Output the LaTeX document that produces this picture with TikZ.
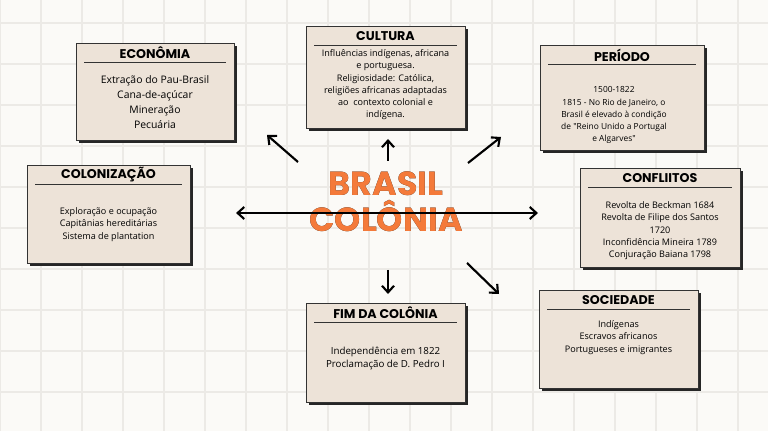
\documentclass[tikz,border=0pt]{standalone}
\usepackage{fontspec}
\setmainfont{Poppins}
\newfontfamily\bodyf{Open Sans}
\usepackage[outline]{contour}
\contourlength{0.9pt}
\usetikzlibrary{arrows.meta}
\definecolor{bg}{HTML}{FBFAF7}
\definecolor{gridc}{HTML}{ECEAE6}
\definecolor{boxf}{HTML}{EDE3D8}
\definecolor{org}{HTML}{F47A3A}
\begin{document}
\begin{tikzpicture}[x=0.75pt,y=-0.75pt,
  card/.style={draw=black!80,line width=0.5pt,fill=boxf},
  ttl/.style={font=\bfseries\fontsize{9.5}{10}\selectfont,anchor=center},
  bod/.style={font=\bodyf\fontsize{6.8}{9.2}\selectfont,align=center,anchor=north},
  arr/.style={line width=1.6pt,-{Straight Barb[length=5pt,width=9pt]}}]
\fill[bg] (0,0) rectangle (768,431);
\useasboundingbox (0,0) rectangle (768,431);
\foreach \x in {0,41,...,768} \draw[gridc,line width=0.8pt] (\x,0)--(\x,431);
\foreach \y in {23,64,...,431} \draw[gridc,line width=0.8pt] (0,\y)--(768,\y);
% cards: #1 x0 #2 y0 #3 x1 #4 y1 #5 title #6 name
\newcommand\card[6]{%
  \fill[black!85] (#1+3,#2+3) rectangle (#3+3,#4+3);
  \draw[card] (#1,#2) rectangle (#3,#4);
  \node[ttl] (#6) at ({(#1+#3)/2},#2+10) {#5};
  \draw[black!80,line width=0.6pt] (#1+8,#2+19)--(#3-8,#2+19);}
\card{76}{43}{234}{140}{ECONÔMIA}{eco}
\node[bod,font=\bodyf\fontsize{7.8}{11.3}\selectfont] at (155,71) {Extração do Pau-Brasil\\Cana-de-açúcar\\Mineração\\Pecuária};
\card{306}{26}{465}{128}{CULTURA}{cul}
\node[bod] at (385.5,45) {Influências indígenas, africana\\e portuguesa.\\Religiosidade: Católica,\\religiões africanas adaptadas\\ao\ \ contexto colonial e\\indígena.};
\card{540}{45}{704}{150}{PERÍODO}{per}
\node[bod,font=\bodyf\fontsize{6.3}{9.2}\selectfont] at (614,82) {1500-1822\\1815 - No Rio de Janeiro, o\\Brasil é elevado à condição\\de "Reino Unido a Portugal\\e Algarves"};
\card{27}{165}{190}{263}{COLONIZAÇÃO}{col}
\node[bod] at (108.5,203) {Exploração e ocupação\\Capitânias hereditárias\\Sistema de plantation};
\card{580}{168}{740}{267}{CONFLIITOS}{con}
\node[bod] at (660,197) {Revolta de Beckman 1684\\Revolta de Filipe dos Santos\\1720\\Inconfidência Mineira 1789\\Conjuração Baiana 1798};
\card{306}{303}{465}{402}{FIM DA COLÔNIA}{fim}
\node[bod,font=\bodyf\fontsize{7.3}{10}\selectfont] at (385.5,342) {Independência em 1822\\Proclamação de D. Pedro I};
\card{539}{290}{698}{388}{SOCIEDADE}{soc}
\node[bod] at (618.5,316) {Indígenas\\Escravos africanos\\Portugueses e imigrantes};
\coordinate (a1s) at (298,162); \coordinate (a1e) at (267,135);
\coordinate (a2s) at (388,161); \coordinate (a2e) at (388,139);
\coordinate (a3s) at (468,163); \coordinate (a3e) at (501,137);
\coordinate (a4s) at (310,213); \coordinate (a4e) at (236,213);
\coordinate (a5s) at (468,213); \coordinate (a5e) at (538,213);
\coordinate (a6s) at (388,270); \coordinate (a6e) at (388,294);
\coordinate (a7s) at (467,263); \coordinate (a7e) at (499,294);
\foreach \i in {1,2,3,4,5,6,7} \draw[arr] (a\i s)--(a\i e);
\node[font=\bfseries\fontsize{25}{25}\selectfont,text=org] (t1) at (386,184) {\contour{black!90}{BRASIL}};
\node[font=\bfseries\fontsize{25}{25}\selectfont,text=org] (t2) at (386,216) {\contour{black!90}{COLÔNIA}};
\draw[line width=1pt] (296,213)--(478,213);
\end{tikzpicture}
\end{document}
